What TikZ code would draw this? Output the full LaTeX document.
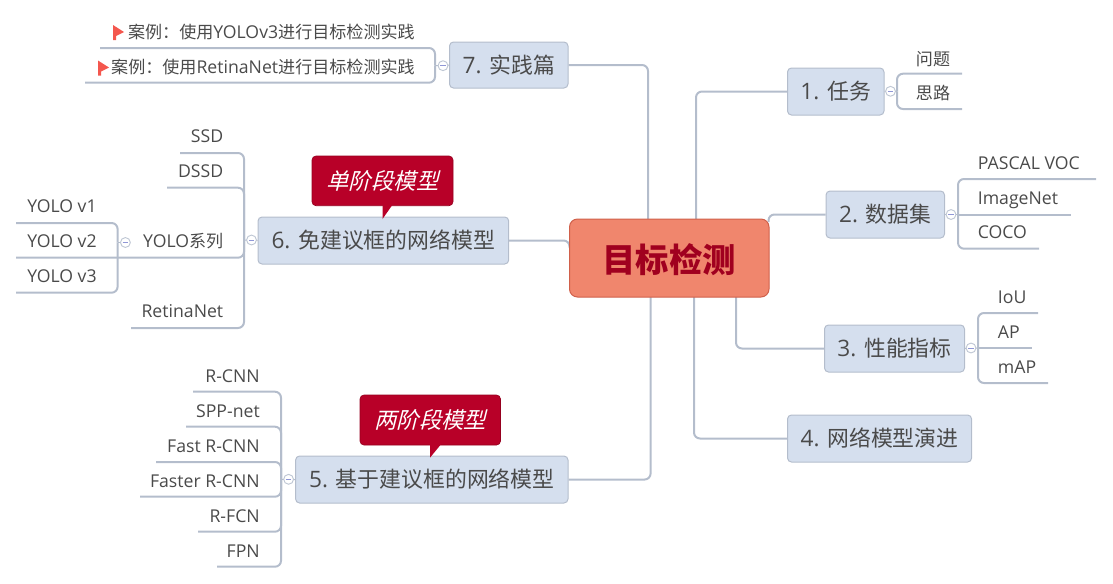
\documentclass[tikz,border=0pt]{standalone}
\usepackage{fontspec}
\setmainfont{Noto Sans CJK SC}
\newfontfamily\lf[Scale=1.035]{Open Sans}
\newfontfamily\cjkit[FakeSlant=0.25]{Noto Sans CJK SC}
\usetikzlibrary{backgrounds}
\definecolor{linkc}{HTML}{B4BDCC}
\definecolor{topicf}{HTML}{D5DFEE}
\definecolor{txt}{HTML}{4A4A4A}
\definecolor{rootf}{HTML}{F0866D}
\definecolor{rootd}{HTML}{D0604A}
\definecolor{roott}{HTML}{A0001F}
\definecolor{callf}{HTML}{B80028}
\definecolor{calld}{HTML}{96001F}
\definecolor{flagc}{HTML}{F4574E}
\tikzset{
  link/.style={draw=linkc,line width=1.5pt,rounded corners=4.5pt},
  topic/.style={draw=linkc,fill=topicf,line width=0.75pt,rounded corners=3pt,inner sep=0pt,text=txt,font=\fontsize{16.4}{18}\selectfont,text height=15pt,text depth=3pt},
  rootnode/.style={draw=rootd,fill=rootf,line width=0.75pt,rounded corners=6pt,inner sep=0pt,text=roott,font=\fontsize{25}{28}\selectfont\bfseries,text height=24pt,text depth=3pt},
  callout/.style={fill=callf,draw=calld,line width=0.5pt,rounded corners=3pt,inner sep=0pt,text=white,font=\fontsize{16.8}{18}\selectfont\cjkit,text height=16pt,text depth=3pt},
  tailc/.style={fill=callf,draw=none},
  leaf/.style={inner sep=0pt,text=txt,font=\fontsize{12.8}{14}\selectfont,text height=12.5pt,text depth=2.5pt},
  leafl/.style={leaf,anchor=west},
  leafr/.style={leaf,anchor=east},
  collapse/.style={circle,draw=linkc!85,fill=white,line width=0.7pt,minimum size=7.4pt,inner sep=0pt,
    path picture={\draw[draw=linkc!80!blue,line width=0.6pt] ([xshift=-2pt]path picture bounding box.center) -- ([xshift=2pt]path picture bounding box.center);}},
  stub/.style={draw=linkc,line width=0.75pt},
  flagp/.style={fill=flagc,draw=none}
}
\newcommand{\boxnode}[7][topic]{%
  \pgfmathsetmacro\cxv{(#3+#5)/2}\pgfmathsetmacro\cyv{(#4+#6)/2}%
  \pgfmathsetmacro\wv{(#5-#3)*0.75}\pgfmathsetmacro\hv{(#6-#4)*0.75}%
  \node[#1,minimum width=\wv pt,minimum height=\hv pt] (#2) at (\cxv,\cyv) {#7};}
\begin{document}
\begin{tikzpicture}[x=0.75pt,y=-0.75pt]
\useasboundingbox (0,0) rectangle (1113,583);
% central and main topics
\boxnode[rootnode]{root}{569.5}{219}{769}{297}{目标检测}
\boxnode{n1}{787.5}{68}{884}{115}{{\lf 1. }任务}
\boxnode{n2}{826}{191}{944.5}{238}{{\lf 2. }数据集}
\boxnode{n3}{824.5}{325}{964.5}{372}{{\lf 3. }性能指标}
\boxnode{n4}{787.5}{415}{971.6}{462}{{\lf 4. }网络模型演进}
\boxnode{n5}{295.6}{456}{568}{503}{{\lf 5. }基于建议框的网络模型}
\boxnode{n6}{258}{217}{508.7}{264}{{\lf 6. }免建议框的网络模型}
\boxnode{n7}{449.5}{42}{568}{88}{{\lf 7. }实践篇}
% anchor points on the central topic
\coordinate (r1) at (696,219);
\coordinate (r2) at (768.5,222);
\coordinate (r3) at (736,297);
\coordinate (r4) at (694,297);
\coordinate (r5) at (650.6,297);
\coordinate (r6) at (569.5,248);
\coordinate (r7) at (648,219);
\begin{scope}[on background layer]
\draw[link] (n1.west) -| (r1);
\draw[link] (n2.west) -| (r2);
\draw[link] (n3.west) -| (r3);
\draw[link] (n4.west) -| (r4);
\draw[link] (n5.east) -| (r5);
\draw[link] (n6.east) -| (r6);
\draw[link] (n7.east) -| (r7);
\end{scope}
% callouts
\boxnode[callout]{c6}{312}{156}{453}{205.7}{单阶段模型}
\fill[tailc] (382.5,204) -- (382.5,219) -- (393,204) -- cycle;
\boxnode[callout]{c5}{360}{395}{500.5}{445}{两阶段模型}
\fill[tailc] (430,443) -- (430,457.7) -- (442,443) -- cycle;
% collapse markers
\coordinate (p1) at (890.5,91.3);
\coordinate (p2) at (951,214.5);
\coordinate (p3) at (971,348);
\coordinate (p5) at (288.6,479.3);
\coordinate (p6) at (251.5,240);
\coordinate (p7) at (443,65.7);
\coordinate (py) at (125.4,242.5);
% bracket hubs
\coordinate (h1) at (897,91.3);
\coordinate (h2) at (958,214.5);
\coordinate (h3) at (978,348);
\coordinate (h5) at (281,479.3);
\coordinate (h6) at (244,240);
\coordinate (h7) at (435,65.7);
\coordinate (hy) at (117.6,242.5);
\draw[stub] (n1.east) -- (h1);
\draw[stub] (n2.east) -- (h2);
\draw[stub] (n3.east) -- (h3);
\draw[stub] (n5.west) -- (h5);
\draw[stub] (n6.west) -- (h6);
\draw[stub] (n7.west) -- (h7);
\draw[stub] (py) -- (hy);
% topic 1
\node[leaf] (t11) at (933,59) {问题};
\node[leaf] (t12) at (933,93) {思路};
\coordinate (e11) at (962,73.7);
\coordinate (e12) at (962,109);
\draw[link] (h1) |- (e11);
\draw[link] (h1) |- (e12);
% topic 2
\node[leafl] (t21) at (977.6,163) {\lf PASCAL VOC};
\node[leafl] (t22) at (977.6,198) {\lf ImageNet};
\node[leafl] (t23) at (977.6,232) {\lf COCO};
\coordinate (e21) at (1096,179);
\coordinate (e22) at (1071,214.5);
\coordinate (e23) at (1039,248.7);
\draw[link] (h2) |- (e21);
\draw[link] (h2) -- (e22);
\draw[link] (h2) |- (e23);
% topic 3
\node[leafl] (t31) at (997.7,297) {\lf IoU};
\node[leafl] (t32) at (997.7,332) {\lf AP};
\node[leafl] (t33) at (997.7,367) {\lf mAP};
\coordinate (e31) at (1038,313);
\coordinate (e32) at (1032,348);
\coordinate (e33) at (1048,383);
\draw[link] (h3) |- (e31);
\draw[link] (h3) -- (e32);
\draw[link] (h3) |- (e33);
% topic 5
\node[leafr] (t51) at (260,375.5) {\lf R-CNN};
\node[leafr] (t52) at (260,411) {\lf SPP-net};
\node[leafr] (t53) at (260,446) {\lf Fast R-CNN};
\node[leafr] (t54) at (260,481) {\lf Faster R-CNN};
\node[leafr] (t55) at (260,516) {\lf R-FCN};
\node[leafr] (t56) at (260,551) {\lf FPN};
\coordinate (e51) at (193,391.7);
\coordinate (e52) at (186,426.7);
\coordinate (e53) at (156,462);
\coordinate (e54) at (140,496.7);
\coordinate (e55) at (198,531.7);
\coordinate (e56) at (217,566.7);
\foreach \e in {e51,e52,e53,e54,e55,e56}
  \draw[link] (h5) |- (\e);
% topic 6
\node[leafr] (t61) at (223.5,136) {\lf SSD};
\node[leafr] (t62) at (223.5,171) {\lf DSSD};
\node[leafr] (t63) at (223.5,241) {{\lf YOLO}系列};
\node[leafr] (t64) at (223.5,311) {\lf RetinaNet};
\coordinate (e61) at (180,153);
\coordinate (e62) at (167,187.7);
\coordinate (e63) at (16,257.7);
\coordinate (e64) at (131,328);
\foreach \e in {e61,e62,e63,e64}
  \draw[link] (h6) |- (\e);
% YOLO series
\node[leafl] (ty1) at (27,206) {\lf YOLO v1};
\node[leafl] (ty2) at (27,241) {\lf YOLO v2};
\node[leafl] (ty3) at (27,276) {\lf YOLO v3};
\coordinate (ey1) at (16,223);
\coordinate (ey3) at (16,292.7);
\draw[link] (hy) |- (ey1);
\draw[link] (hy) |- (ey3);
% topic 7
\node[leafr] (t71) at (415,32) {案例：使用{\lf YOLOv3}进行目标检测实践};
\node[leafr] (t72) at (415,67) {案例：使用{\lf RetinaNet}进行目标检测实践};
\coordinate (e71) at (100,48);
\coordinate (e72) at (85,82.7);
\draw[link] (h7) |- (e71);
\draw[link] (h7) |- (e72);
% collapse circles on top of the stubs
\node[collapse] (k1) at (p1) {};
\node[collapse] (k2) at (p2) {};
\node[collapse] (k3) at (p3) {};
\node[collapse] (k5) at (p5) {};
\node[collapse] (k6) at (p6) {};
\node[collapse] (k7) at (p7) {};
\node[collapse] (ky) at (py) {};
% flags
\fill[flagp] (113,25) -- (124,32) -- (116,36) -- (116,40) -- (113,40) -- cycle;
\fill[flagp] (98,60.5) -- (109,67.5) -- (101,71.5) -- (101,75.5) -- (98,75.5) -- cycle;
\end{tikzpicture}
\end{document}
